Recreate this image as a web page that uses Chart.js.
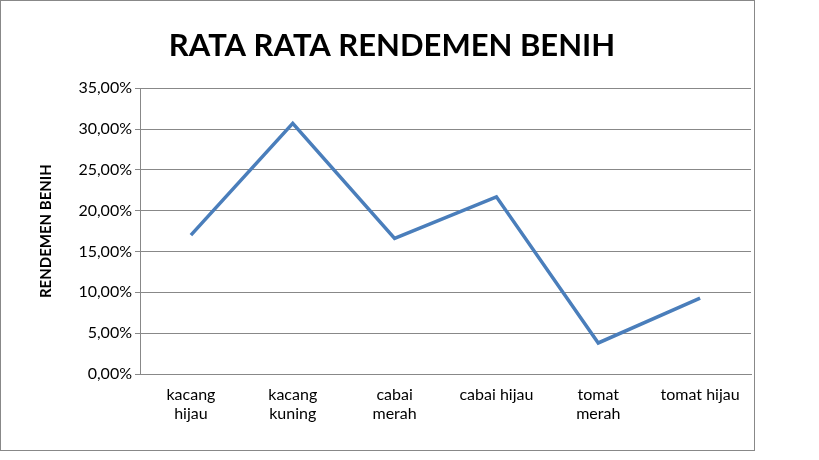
<!DOCTYPE html>
<html><head><meta charset="utf-8">
<script src="https://cdn.jsdelivr.net/npm/chart.js@4"></script>
<style>
body{margin:0;background:#fff;}
#box{position:absolute;left:0;top:0;width:755px;height:451px;border:1px solid #888;box-sizing:border-box;}
</style></head><body>
<div id="box"><canvas id="c"></canvas></div>
<script>
const categories = [['kacang','hijau'],['kacang','kuning'],['cabai','merah'],'cabai hijau',['tomat','merah'],'tomat hijau'];
const rendemen = [17.0, 30.7, 16.6, 21.7, 3.8, 9.3];
const yTicks = [0,5,10,15,20,25,30,35];

const c = document.getElementById('c');
c.width = 753; c.height = 449;
c.style.width = '753px'; c.style.height = '449px';

new Chart(c, {
  type: 'line',
  data: { labels: categories, datasets: [{
    data: rendemen, borderColor: '#4a7ebb', borderWidth: 3.5,
    pointRadius: 0, tension: 0, fill: false
  }]},
  options: {
    responsive: false, animation: false,
    layout: { padding: { top: 0, right: 3, bottom: 0, left: 32 } },
    plugins: {
      legend: { display: false }, tooltip: { enabled: false },
      title: { display: true, text: 'RATA RATA RENDEMEN BENIH', color: '#000',
        font: { family: 'Lato', size: 31, weight: 'bold' }, padding: { top: 26, bottom: 24 } }
    },
    scales: {
      y: {
        min: 0, max: 35,
        afterBuildTicks: s => { s.ticks = yTicks.map(v => ({ value: v })); },
        afterFit: s => { s.width = 107; },
        ticks: { color: '#000', font: { family: 'Lato', size: 16 },
          callback: v => v.toFixed(2).replace('.', ',') + '%' },
        grid: { color: '#888', drawTicks: true, tickLength: 5 },
        border: { color: '#888' },
        title: { display: true, text: 'RENDEMEN BENIH', color: '#000',
          font: { family: 'Lato', size: 15, weight: 'bold' } }
      },
      x: {
        offset: true,
        afterFit: s => { s.height = 76; },
        ticks: { color: '#000', font: { family: 'Lato', size: 16 }, maxRotation: 0, autoSkip: false },
        grid: { display: false, drawTicks: true },
        border: { color: '#888' }
      }
    }
  }
});
</script></body></html>
